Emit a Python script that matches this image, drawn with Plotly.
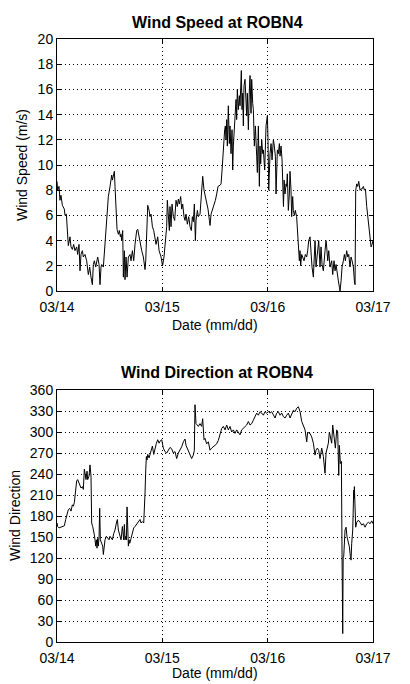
import plotly.graph_objects as go

# ---------------- data (hours since 03/14 00:00) ----------------
speed_hours = [
    0.0, 0.15, 0.46, 0.68, 0.91, 1.22, 1.67, 1.82, 2.13, 2.43, 2.58, 2.96, 3.19, 3.5, 3.8, 4.1,
    4.48, 4.71, 5.02, 5.24, 5.47, 5.78, 6.0, 6.38, 6.76, 7.14, 7.45, 7.75, 8.06, 8.28, 8.51, 8.82,
    9.27, 9.58, 9.8, 10.03, 10.18, 10.56, 10.94, 11.32, 11.7, 12.08, 12.31, 12.46, 12.62, 12.84,
    13.07, 13.22, 13.45, 13.68, 13.98, 14.21, 14.44, 14.59, 14.74, 14.97, 15.12, 15.35, 15.5,
    15.73, 15.96, 16.26, 16.64, 16.87, 17.18, 17.48, 17.78, 18.16, 18.39, 18.7, 19.0, 19.3,
    19.68, 20.06, 20.22, 20.52, 20.67, 20.98, 21.2, 21.43, 21.74, 22.04, 22.34, 22.57, 22.95,
    23.26, 23.71, 24.05, 24.38, 24.61, 24.84, 24.99, 25.14, 25.37, 25.6, 25.75, 25.98, 26.21,
    26.51, 26.81, 27.12, 27.42, 27.65, 27.88, 28.18, 28.41, 28.64, 28.94, 29.17, 29.4, 29.7,
    30.01, 30.31, 30.61, 30.84, 31.07, 31.3, 31.53, 31.68, 31.98, 32.21, 32.59, 32.97, 33.2,
    33.5, 33.81, 34.11, 34.41, 34.72, 34.87, 35.1, 35.48, 35.78, 36.09, 36.39, 36.69, 37.15,
    37.38, 37.61, 37.9, 38.2, 38.36, 38.51, 38.66, 38.81, 39.04, 39.27, 39.42, 39.65, 39.88,
    40.03, 40.18, 40.56, 40.79, 40.94, 41.09, 41.32, 41.55, 41.7, 41.85, 42.0, 42.16, 42.31,
    42.46, 42.61, 42.84, 43.07, 43.22, 43.37, 43.6, 43.83, 43.98, 44.21, 44.36, 44.59, 44.74,
    44.97, 45.2, 45.5, 45.65, 45.88, 46.11, 46.26, 46.41, 46.64, 46.87, 47.02, 47.32, 47.63,
    47.93, 48.08, 48.24, 48.54, 48.77, 49.0, 49.3, 49.45, 49.76, 49.91, 50.21, 50.44, 50.67,
    50.82, 51.05, 51.28, 51.6, 51.75, 51.95, 52.2, 52.33, 52.48, 52.71, 52.94, 53.09, 53.32,
    53.47, 53.7, 53.85, 54.1, 54.3, 54.6, 54.84, 55.07, 55.22, 55.37, 55.52, 55.75, 55.98,
    56.28, 56.59, 56.89, 57.12, 57.35, 57.65, 57.88, 58.11, 58.41, 58.56, 58.79, 59.02, 59.32,
    59.63, 59.93, 60.16, 60.39, 60.69, 61.07, 61.3, 61.45, 61.68, 61.91, 62.21, 62.59, 62.82,
    63.12, 63.35, 63.58, 63.88, 64.11, 64.34, 64.49, 64.72, 64.95, 65.25, 65.48, 65.71, 66.01,
    66.24, 66.47, 66.77, 67.0, 67.23, 67.53, 67.76, 67.91, 68.06, 68.29, 68.52, 68.75, 69.05,
    69.28, 69.51, 69.81, 70.04, 70.27, 70.57, 70.95, 71.33, 71.56, 71.79, 72.0,
]
speed_values = [
    8.7, 8.0, 8.3, 7.2, 7.6, 6.8, 6.5, 6.0, 6.1, 4.3, 3.6, 4.3, 3.5, 3.3, 3.7, 3.2,
    3.5, 2.9, 3.7, 1.6, 2.9, 3.2, 2.7, 2.9, 2.4, 1.3, 1.9, 1.1, 0.5, 2.1, 2.4, 1.9,
    2.7, 2.1, 0.5, 1.9, 2.1, 1.9, 4.0, 5.9, 7.5, 8.3, 8.9, 9.2, 8.8, 9.3,
    9.5, 8.3, 6.7, 4.9, 4.5, 4.8, 4.3, 4.5, 4.0, 4.8, 1.1, 3.2, 0.9,
    2.7, 1.1, 2.7, 2.9, 2.4, 3.2, 2.4, 3.7, 4.8, 4.9, 4.3, 3.5, 3.2,
    2.7, 1.7, 2.4, 4.8, 6.8, 6.4, 5.9, 6.1, 5.1, 4.8, 4.3, 3.7, 4.3,
    3.2, 2.7, 2.0, 2.7, 3.7, 4.3, 5.1, 7.2, 5.9, 4.8, 6.7, 5.1, 6.9,
    5.9, 5.6, 7.2, 6.7, 7.3, 6.9, 7.5, 6.5, 6.9, 5.9, 5.6, 6.1, 5.3,
    5.9, 5.1, 4.8, 5.9, 5.5, 6.9, 4.0, 5.6, 6.4, 5.9, 6.1, 7.7, 9.1,
    8.0, 7.5, 7.1, 6.5, 5.6, 5.2, 6.1, 6.5, 6.9, 7.2, 7.7, 8.3, 8.4,
    8.5, 9.6, 11.5, 12.8, 13.1, 12.0, 13.6, 11.5, 14.7, 11.7, 13.1, 10.9, 12.8,
    9.6, 11.5, 14.1, 15.2, 13.6, 16.0, 14.4, 15.5, 14.7, 16.5, 17.5, 14.4, 15.7,
    13.1, 16.3, 16.8, 14.4, 13.9, 15.7, 12.8, 16.0, 17.1, 14.1, 16.8, 14.9, 14.4,
    11.5, 13.1, 10.7, 9.4, 13.1, 8.3, 11.5, 10.1, 12.0, 10.9, 11.2, 9.6, 13.1,
    13.9, 12.0, 8.0, 10.9, 11.7, 10.4, 12.0, 11.7, 10.7, 7.7, 11.2, 10.9, 11.7,
    10.7, 11.5, 10.4, 6.7, 8.8, 7.7, 8.5, 8.3, 9.3, 6.4, 7.7, 9.5, 8.0,
    5.9, 7.5, 6.4, 6.0, 6.4, 5.9, 4.5, 3.5, 2.4, 3.2, 2.0, 2.9, 2.7,
    2.4, 2.9, 2.7, 3.2, 4.0, 4.3, 2.4, 1.9, 1.1, 2.1, 4.0, 1.9, 3.2,
    4.0, 1.9, 3.5, 2.1, 1.6, 3.2, 4.0, 3.5, 2.4, 3.2, 1.9, 2.4, 1.3,
    2.4, 1.6, 2.1, 1.1, 0.8, 0.3, 0.0, 0.8, 1.9, 2.4, 2.9, 2.4, 3.2,
    2.7, 2.9, 1.9, 2.7, 2.4, 1.9, 0.8, 0.5, 8.0, 8.5, 8.3, 8.7, 8.0,
    8.1, 8.1, 8.3, 8.0, 8.1, 6.7, 5.3, 4.3, 3.5, 3.7, 4.0,
]

dir_hours = [
    0.0, 0.15, 0.46, 1.06, 1.67, 1.98, 2.28, 2.58, 2.89, 3.19, 3.5, 3.72, 3.95, 4.26, 4.48,
    4.71, 5.02, 5.24, 5.47, 5.78, 6.0, 6.23, 6.38, 6.61, 6.84, 6.99, 7.3, 7.52, 7.75, 7.9,
    8.13, 8.36, 8.51, 8.66, 8.82, 8.97, 9.12, 9.27, 9.42, 9.58, 9.73, 9.88, 10.18, 10.41,
    10.56, 10.71, 10.94, 11.25, 11.55, 11.86, 12.08, 12.31, 12.62, 12.92, 13.22, 13.53,
    13.76, 13.98, 14.29, 14.59, 14.9, 15.05, 15.2, 15.35, 15.5, 15.66, 15.81, 15.96, 16.11,
    16.26, 16.42, 16.57, 16.87, 17.18, 17.48, 17.78, 18.16, 18.54, 18.92, 19.15, 19.46,
    19.76, 19.91, 20.06, 20.22, 20.37, 20.52, 20.67, 20.98, 21.2, 21.43, 21.74, 22.04,
    22.34, 22.65, 22.95, 23.26, 23.48, 23.86, 24.23, 24.6, 25.0, 25.37, 25.75, 26.13, 26.5,
    26.89, 27.27, 27.65, 28.03, 28.41, 28.79, 29.17, 29.39, 29.7, 30.07, 30.45, 30.68,
    31.06, 31.29, 31.44, 31.67, 31.97, 32.2, 32.58, 32.96, 33.19, 33.5, 33.72, 34.1, 34.48,
    34.86, 35.24, 35.62, 36.0, 36.38, 36.76, 37.14, 37.52, 37.9, 38.28, 38.66, 39.04, 39.42,
    39.8, 40.18, 40.56, 40.94, 41.32, 41.7, 42.08, 42.46, 42.84, 43.22, 43.6, 43.98, 44.36,
    44.74, 45.12, 45.5, 45.88, 46.26, 46.64, 47.02, 47.4, 47.78, 48.16, 48.54, 48.92, 49.3,
    49.68, 50.06, 50.44, 50.82, 51.2, 51.58, 51.96, 52.34, 52.72, 53.1, 53.48, 53.86, 54.24,
    54.62, 55.0, 55.38, 55.76, 56.14, 56.52, 56.9, 57.12, 57.43, 57.65, 58.03, 58.41, 58.79,
    59.01, 59.32, 59.62, 59.93, 60.31, 60.69, 61.07, 61.3, 61.6, 61.83, 62.06, 62.36, 62.59,
    62.82, 62.97, 63.2, 63.43, 63.73, 63.96, 64.19, 64.34, 64.57, 64.8, 64.95, 65.1, 65.2,
    65.33, 65.63, 65.86, 66.09, 66.39, 66.62, 66.85, 67.0, 67.15, 67.38, 67.61, 67.7, 67.76,
    67.85, 68.06, 68.29, 68.67, 69.05, 69.43, 69.81, 70.19, 70.57, 70.95, 71.33, 71.71, 72.0,
]
dir_values = [
    170, 165, 163, 164, 166, 175, 182, 189, 191, 187, 196, 194, 199, 213, 230,
    232, 227, 224, 220, 222, 218, 247, 237, 232, 244, 232, 237, 253, 237, 170,
    165, 160, 153, 146, 137, 146, 134, 148, 137, 150, 191, 146, 141, 137,
    125, 137, 146, 151, 148, 146, 151, 148, 146, 155, 160, 170,
    175, 160, 151, 146, 165, 148, 146, 168, 146, 151, 146, 193, 165,
    137, 146, 141, 148, 155, 163, 165, 168, 172, 175, 170, 172,
    170, 184, 213, 246, 265, 260, 268, 263, 268, 272, 280, 268,
    277, 284, 289, 284, 287, 289, 277, 272, 270, 274, 278, 276, 270,
    272, 262, 270, 274, 279, 286, 290, 281, 277, 272, 267, 262,
    267, 274, 339, 312, 310, 308, 312, 308, 319, 289, 291, 283, 286,
    274, 277, 279, 281, 283, 288, 296, 305, 308, 303, 310, 303, 308,
    300, 303, 298, 303, 300, 296, 303, 305, 308, 310, 315, 310, 312,
    317, 322, 327, 324, 329, 327, 324, 329, 327, 329, 327, 329, 324,
    320, 327, 329, 324, 327, 322, 320, 324, 327, 320, 327, 331, 329,
    334, 336, 329, 315, 310, 303, 286, 300, 298, 298, 293, 284, 267,
    274, 277, 274, 262, 277, 265, 241, 270, 277, 284, 300, 293, 284,
    310, 300, 289, 277, 303, 300, 238, 281, 255, 258, 122, 12, 122,
    122, 160, 164, 150, 141, 136, 122, 117, 141, 160, 217, 205, 222,
    190, 164, 171, 174, 171, 167, 169, 164, 169, 171, 169, 173, 169,
]

day_ticks = [0, 24, 48, 72]
day_labels = ["03/14", "03/15", "03/16", "03/17"]

# ---------------- figure ----------------
W, H = 410, 684
FONT = "Liberation Sans, Arial, sans-serif"

fig = go.Figure()
fig.add_trace(go.Scatter(x=speed_hours, y=speed_values, mode="lines",
                         line=dict(color="black", width=1), xaxis="x", yaxis="y",
                         showlegend=False, hoverinfo="skip"))
fig.add_trace(go.Scatter(x=dir_hours, y=dir_values, mode="lines",
                         line=dict(color="black", width=1), xaxis="x2", yaxis="y2",
                         showlegend=False, hoverinfo="skip"))

x0, x1 = 57 / W, 373 / W
top_dom = [(H - 291) / H, (H - 39) / H]
bot_dom = [(H - 642) / H, (H - 390) / H]

common_x = dict(range=[0, 72], tickvals=day_ticks, ticktext=day_labels, domain=[x0, x1],
                showline=True, linecolor="black", linewidth=1, mirror="ticks",
                ticks="inside", ticklen=4, tickcolor="black", automargin=False,
                ticklabelstandoff=3,
                showgrid=True, gridcolor="black", gridwidth=1, griddash="1px,3px",
                zeroline=False, tickfont=dict(family=FONT, size=14, color="black"))
common_y = dict(showline=True, linecolor="black", linewidth=1, mirror="ticks",
                ticks="inside", ticklen=4, tickcolor="black", automargin=False,
                showgrid=True, gridcolor="black", gridwidth=1, griddash="1px,3px",
                zeroline=False, tickfont=dict(family=FONT, size=14, color="black"))

fig.update_layout(
    width=W, height=H, margin=dict(l=0, r=0, t=0, b=0, autoexpand=False),
    paper_bgcolor="white", plot_bgcolor="white",
    xaxis=dict(common_x, anchor="y"),
    yaxis=dict(common_y, range=[0, 20], dtick=2, domain=top_dom, anchor="x"),
    xaxis2=dict(common_x, anchor="y2"),
    yaxis2=dict(common_y, range=[0, 360], dtick=30, domain=bot_dom, anchor="x2"),
)

def ann(text, x, y, size, bold=False, angle=0):
    fig.add_annotation(text=f"<b>{text}</b>" if bold else text,
                       x=x / W, y=1 - y / H, xref="paper", yref="paper",
                       showarrow=False, textangle=angle, xanchor="center", yanchor="middle",
                       font=dict(family=FONT, size=size, color="black"))

ann("Wind Speed at ROBN4", 217, 22, 16, bold=True)
ann("Wind Direction at ROBN4", 217, 373, 16, bold=True)
ann("Date (mm/dd)", 215, 325, 14)
ann("Date (mm/dd)", 215, 673, 14)
ann("Wind Speed (m/s)", 22, 165, 14, angle=-90)
ann("Wind Direction", 15, 516, 14, angle=-90)

fig.write_html("out.html")
